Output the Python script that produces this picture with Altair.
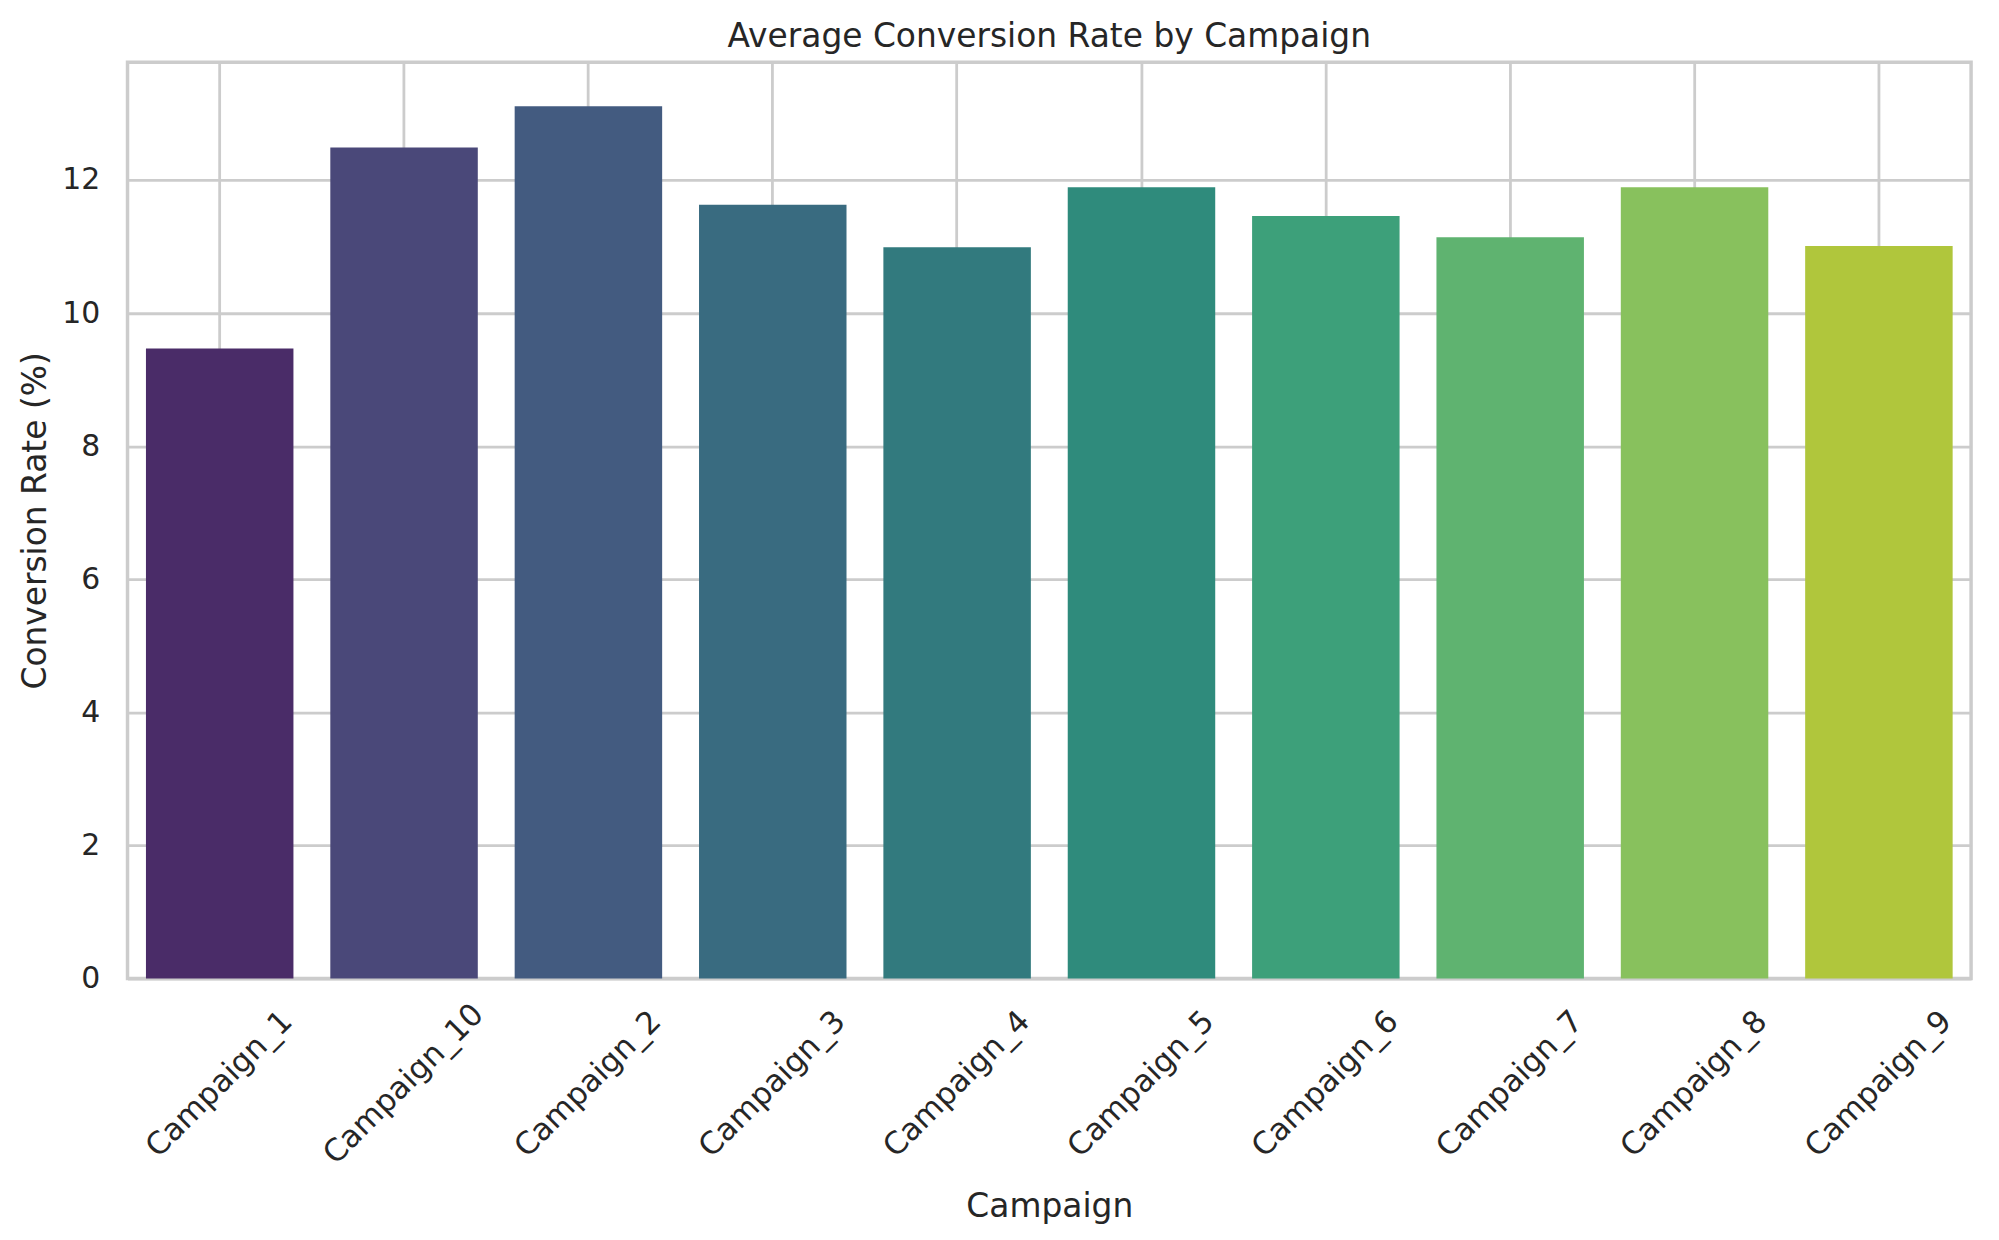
import altair as alt
import pandas as pd

campaigns = ["Campaign_1", "Campaign_10", "Campaign_2", "Campaign_3", "Campaign_4",
             "Campaign_5", "Campaign_6", "Campaign_7", "Campaign_8", "Campaign_9"]
rates = [9.47, 12.49, 13.11, 11.63, 10.99, 11.89, 11.46, 11.14, 11.89, 11.01]
bar_colors = ["#4a2c68", "#4a4879", "#435b80", "#396b80", "#327a7e",
              "#2f8b7c", "#3da07a", "#5fb370", "#88c15d", "#b0c63c"]
y_ticks = [0, 2, 4, 6, 8, 10, 12]

df = pd.DataFrame({"Campaign": campaigns, "Rate": rates})

FONT = "DejaVu Sans"
TXT = "#262626"
GRID = "#cccccc"

chart = alt.Chart(df).mark_bar().encode(
    x=alt.X(
        "Campaign:N",
        sort=campaigns,
        scale=alt.Scale(paddingInner=0.2, paddingOuter=0.1),
        axis=alt.Axis(
            title="Campaign",
            labelAngle=315,
            labelAlign="center",
            labelBaseline="middle",
            labelPadding=106,
            labelOverlap=False,
            labelLimit=0,
            labelFontSize=31,
            titleFontSize=33,
            titlePadding=21,
            ticks=False,
            tickSize=0,
            bandPosition=0.5,
            grid=True,
            domain=False,
        ),
    ),
    y=alt.Y(
        "Rate:Q",
        scale=alt.Scale(domain=[0, 13.77], nice=False, zero=True),
        axis=alt.Axis(
            title="Conversion Rate (%)",
            values=y_ticks,
            labelPadding=28,
            labelFontSize=30,
            titleFontSize=33,
            titlePadding=9,
            ticks=False,
            tickSize=0,
            grid=True,
            domain=False,
        ),
    ),
    color=alt.Color("Campaign:N", scale=alt.Scale(domain=campaigns, range=bar_colors), legend=None),
).properties(
    width=1851,
    height=920,
    title=alt.TitleParams(
        "Average Conversion Rate by Campaign",
        fontSize=33,
        font=FONT,
        fontWeight="normal",
        color=TXT,
        offset=8,
    ),
    padding={"left": 120, "top": 52, "right": 20, "bottom": 250},
    autosize="none",
).configure_axis(
    labelFont=FONT,
    titleFont=FONT,
    labelColor=TXT,
    titleColor=TXT,
    titleFontWeight="normal",
    gridColor=GRID,
    gridWidth=2.8,
    gridOpacity=1,
).configure_view(
    stroke=GRID,
    strokeWidth=3.5,
)

chart.save("out.html", embed_options={"renderer": "svg", "actions": False})
